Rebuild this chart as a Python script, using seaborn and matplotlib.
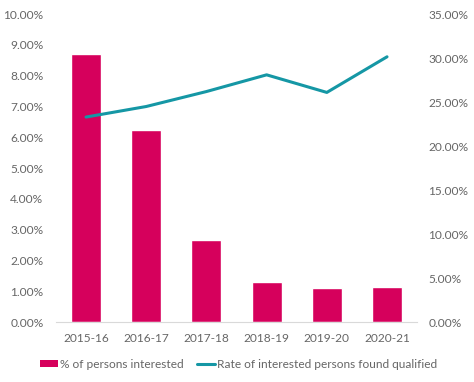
import pandas as pd
import matplotlib.pyplot as plt
import seaborn as sns
from matplotlib.patches import Patch
from matplotlib.lines import Line2D
from matplotlib.ticker import PercentFormatter

# data
years = ["2015-16", "2016-17", "2017-18", "2018-19", "2019-20", "2020-21"]
pct_interested = [8.70, 6.23, 2.66, 1.30, 1.09, 1.13]
rate_qualified = [23.3, 24.5, 26.2, 28.1, 26.1, 30.15]

df = pd.DataFrame({"year": years, "interested": pct_interested, "qualified": rate_qualified})

bar_color = "#D6005C"
line_color = "#1597A5"
text_color = "#666666"

sns.set_style("white")
plt.rcParams["font.family"] = ["Lato", "DejaVu Sans"]

fig = plt.figure(figsize=(4.74, 3.82), dpi=100)
ax = fig.add_axes([0.118, 0.157, 0.762, 0.806])

sns.barplot(data=df, x="year", y="interested", color=bar_color, width=0.5,
            saturation=1, ax=ax)
ax.set_ylim(0, 10)
ax.set_yticks(range(0, 11))
ax.yaxis.set_major_formatter(PercentFormatter(decimals=2))

ax2 = ax.twinx()
sns.lineplot(data=df, x="year", y="qualified", color=line_color, linewidth=2.2,
             ax=ax2)
ax2.set_ylim(0, 35)
ax2.set_yticks(range(0, 36, 5))
ax2.yaxis.set_major_formatter(PercentFormatter(decimals=2))
ax.set_xlim(-0.5, len(years) - 0.5)

for a in (ax, ax2):
    a.set_xlabel("")
    a.set_ylabel("")
    for s in a.spines.values():
        s.set_visible(False)
    a.tick_params(length=0, labelsize=8.6, colors=text_color)
ax.spines["bottom"].set_visible(True)
ax.spines["bottom"].set_color("#D9D9D9")
ax.tick_params(axis="x", pad=8)
ax.tick_params(axis="y", pad=9)
ax2.tick_params(axis="y", pad=8)

handles = [Patch(facecolor=bar_color, edgecolor="none"),
           Line2D([0], [0], color=line_color, linewidth=2.2)]
labels = ["% of persons interested", "Rate of interested persons found qualified"]
fig.legend(handles, labels, loc="center", bbox_to_anchor=(0.503, 0.047), ncol=2,
           frameon=False, fontsize=8.6, labelcolor=text_color, handlelength=1.5,
           handleheight=0.55, handletextpad=0.2, columnspacing=1.1)

fig.savefig("out.png", dpi=100)
